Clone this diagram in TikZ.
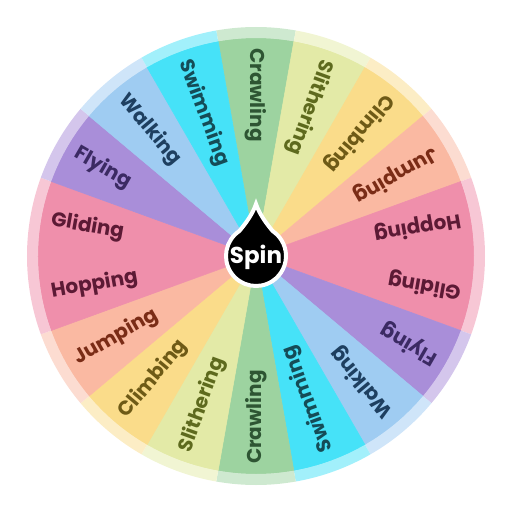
\documentclass[tikz,border=0pt]{standalone}
\usepackage{fontspec}
\setmainfont{Poppins}
\usepackage{xcolor}
\definecolor{crawl}{HTML}{9DD3A0}
\definecolor{crawlink}{HTML}{2E5533}
\definecolor{slither}{HTML}{E3EAA7}
\definecolor{slitherink}{HTML}{5E6A1E}
\definecolor{climb}{HTML}{FADC8A}
\definecolor{climbink}{HTML}{6E5A16}
\definecolor{jump}{HTML}{FAB9A2}
\definecolor{jumpink}{HTML}{7A2C16}
\definecolor{hop}{HTML}{EF8FAB}
\definecolor{hopink}{HTML}{5C1A35}
\definecolor{fly}{HTML}{A98ED9}
\definecolor{flyink}{HTML}{3B2A63}
\definecolor{walk}{HTML}{9FCCF2}
\definecolor{walkink}{HTML}{1E3F60}
\definecolor{swim}{HTML}{46E2F8}
\definecolor{swimink}{HTML}{154C57}
\usepackage{tikz}

\begin{document}
\begin{tikzpicture}[x = 1pt, y = 1pt, wedgetext/.style={
					anchor = west, inner sep = 0pt, text height = 15pt, text depth = 4pt,
					font = \fontsize{20}{20}\selectfont\bfseries},
					hub/.style={fill = black, draw = white, line width = 4pt}]
		\useasboundingbox (-256,-256) rectangle (256,256);
		\foreach \word/\col/\ink [count=\i from 0] in {Crawling/crawl/crawlink, Slithering/slither/slitherink,
				Climbing/climb/climbink, Jumping/jump/jumpink, Hopping/hop/hopink, Gliding/hop/hopink,
				Flying/fly/flyink, Walking/walk/walkink, Swimming/swim/swimink,
				Crawling/crawl/crawlink, Slithering/slither/slitherink, Climbing/climb/climbink,
				Jumping/jump/jumpink, Hopping/hop/hopink, Gliding/hop/hopink,
				Flying/fly/flyink, Walking/walk/walkink, Swimming/swim/swimink}
		{
			\pgfmathsetmacro\mid{90-20*\i}
			\filldraw[fill = \col, draw = \col, line width = 0.5pt] (0,0) -- (\mid-10:218)
				arc[start angle = \mid-10, end angle = \mid+10, radius = 218] -- cycle;
			\fill[\col!50!white] (\mid-10:218) arc[start angle = \mid-10, end angle = \mid+10, radius = 218]
				-- (\mid+10:229) arc[start angle = \mid+10, end angle = \mid-10, radius = 229] -- cycle;
			\node (w\i) [wedgetext, text = \ink, rotate = \mid+180] at (\mid:208) {\word};
		}
		\filldraw[hub] (0,52) .. controls (-3,43) and (-9,34) .. (124:30)
			arc[start angle = 124, end angle = 416, radius = 30]
			.. controls (9,34) and (3,43) .. (0,52) -- cycle;
		\node (spin) [text = white, font = \fontsize{23}{23}\selectfont\bfseries] at (0,-1) {Spin};
	\end{tikzpicture}
\end{document}
